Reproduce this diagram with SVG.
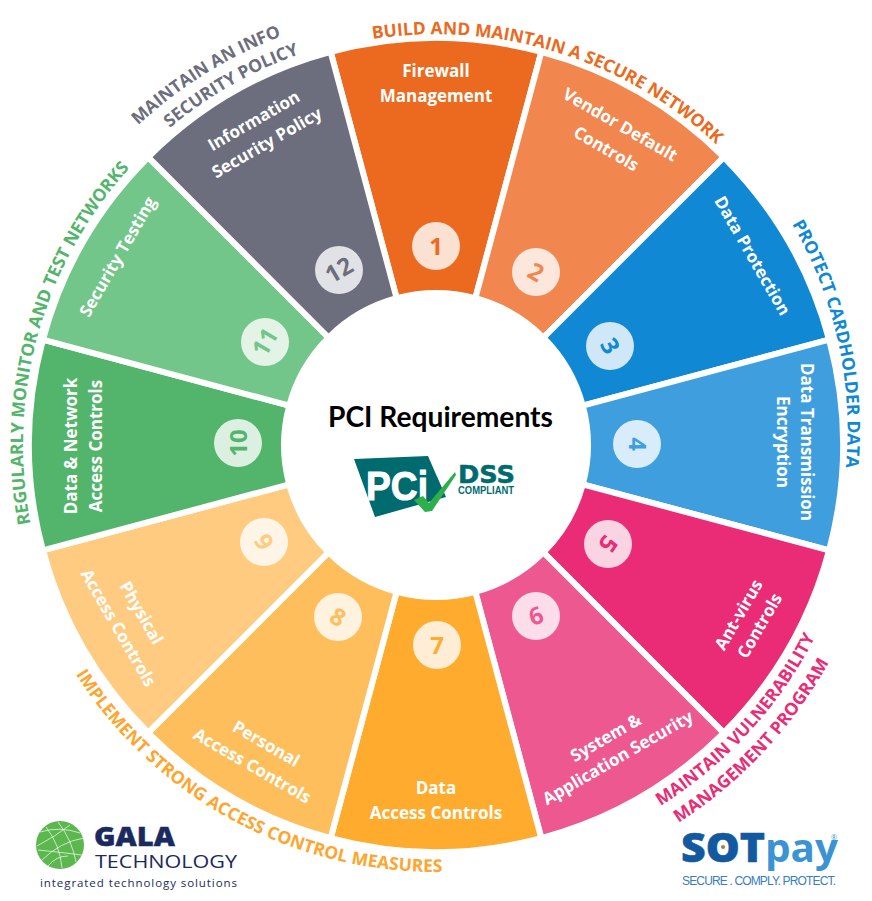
<svg xmlns="http://www.w3.org/2000/svg" width="872" height="901" viewBox="0 0 872 901">
<style>
text{font-family:"Open Sans","Liberation Sans",sans-serif}
.seg{stroke:#fff;stroke-width:6;stroke-linejoin:miter}
.lb{fill:#fff;font-size:17px;font-weight:700;text-anchor:middle}
.dg{font-size:24px;font-weight:700;text-anchor:middle}
.ol{font-size:17.5px;font-weight:700}
.cb{fill:#fff;fill-opacity:.8}
</style>
<defs>
<path id="seg" class="seg" d="M-105.3 -393.1A407 407 0 0 1 105.3 -393.1L39.3 -146.8A152 152 0 0 0 -39.3 -146.8Z"/>
<path id="a1" d="M372.7 39.1A411 411 0 0 1 791.9 239.5"/>
<path id="a2" d="M792 224A410 410 0 0 1 822.8 570.2"/>
<path id="a3a" d="M660.4 805.9A425 425 0 0 0 861 445"/>
<path id="a3b" d="M678.6 822.8A449 449 0 0 0 885 445"/>
<path id="a4" d="M75.9 674.4A427 427 0 0 0 546.5 857.4"/>
<path id="a5" d="M30.6 523.8A413 413 0 0 1 229.5 87.3"/>
<path id="a6a" d="M138 125.4A437 437 0 0 1 436 8"/>
<path id="a6b" d="M169.9 127.9A414 414 0 0 1 436 31"/>
</defs>

<g id="connectors"></g>

<g id="node-1"><use href="#seg" transform="translate(436 445)" fill="#EC6A20"/><circle class="cb" cx="436" cy="246" r="24"/><text class="dg" fill="#EC6A20" transform="translate(436 246)" y="8.5">1</text><text class="lb" x="436" y="77">Firewall</text><text class="lb" x="436" y="102">Management</text></g>
<g id="node-2"><use href="#seg" transform="translate(436 445) rotate(30)" fill="#F2864F"/><circle class="cb" cx="536" cy="272" r="24"/><text class="dg" fill="#F2864F" transform="translate(536 272) rotate(30)" y="8.5">2</text><text class="lb" transform="translate(620 125) rotate(30)" y="5.5">Vendor Default</text><text class="lb" transform="translate(606 149) rotate(30)" y="5.5">Controls</text></g>
<g id="node-3"><use href="#seg" transform="translate(436 445) rotate(60)" fill="#1088D3"/><circle class="cb" cx="610" cy="346" r="24"/><text class="dg" fill="#1088D3" transform="translate(610 346) rotate(60)" y="8.5">3</text><text class="lb" transform="translate(752 256) rotate(60)" y="5.5">Data Protection</text></g>
<g id="node-4"><use href="#seg" transform="translate(436 445) rotate(90)" fill="#3F9FDE"/><circle class="cb" cx="637" cy="444" r="24"/><text class="dg" fill="#3F9FDE" transform="translate(637 444) rotate(90)" y="8.5">4</text><text class="lb" transform="translate(806 442) rotate(90)" y="5.5">Data Transmission</text><text class="lb" transform="translate(782 442) rotate(90)" y="5.5">Encryption</text></g>
<g id="node-5"><use href="#seg" transform="translate(436 445) rotate(120)" fill="#E92C75"/><circle class="cb" cx="608" cy="544" r="24"/><text class="dg" fill="#E92C75" transform="translate(608 544) rotate(125)" y="8.5">5</text><text class="lb" transform="translate(739 615) rotate(-60)" y="5.5">Ant-virus</text><text class="lb" transform="translate(760 626) rotate(-60)" y="5.5">Controls</text></g>
<g id="node-6"><use href="#seg" transform="translate(436 445) rotate(150)" fill="#EE5891"/><circle class="cb" cx="536" cy="616" r="24"/><text class="dg" fill="#EE5891" transform="translate(536 616) rotate(-20)" y="8.5">6</text><text class="lb" transform="translate(606 738) rotate(-30)" y="5.5">System &amp;</text><text class="lb" transform="translate(618 758) rotate(-30)" y="5.5">Application Security</text></g>
<g id="node-7"><use href="#seg" transform="translate(436 445) rotate(180)" fill="#FFAB2E"/><circle class="cb" cx="437" cy="645" r="24"/><text class="dg" fill="#FFAB2E" transform="translate(437 645)" y="8.5">7</text><text class="lb" x="436" y="794">Data</text><text class="lb" x="436" y="819">Access Controls</text></g>
<g id="node-8"><use href="#seg" transform="translate(436 445) rotate(210)" fill="#FFBE5C"/><circle class="cb" cx="338" cy="617" r="24"/><text class="dg" fill="#FFBE5C" transform="translate(338 617) rotate(30)" y="8.5">8</text><text class="lb" transform="translate(266 744) rotate(30)" y="5.5">Personal</text><text class="lb" transform="translate(252 766) rotate(30)" y="5.5">Access Controls</text></g>
<g id="node-9"><use href="#seg" transform="translate(436 445) rotate(240)" fill="#FFCB80"/><circle class="cb" cx="264" cy="542" r="24"/><text class="dg" fill="#FFCB80" transform="translate(264 542) rotate(60)" y="8.5">9</text><text class="lb" transform="translate(141 613) rotate(60)" y="5.5">Physical</text><text class="lb" transform="translate(118 628) rotate(60)" y="5.5">Access Controls</text></g>
<g id="node-10"><use href="#seg" transform="translate(436 445) rotate(270)" fill="#53B56B"/><circle class="cb" cx="238" cy="443" r="24"/><text class="dg" fill="#53B56B" transform="translate(238 443) rotate(-90)" y="8.5">10</text><text class="lb" transform="translate(71 446) rotate(-90)" y="5.5">Data &amp; Network</text><text class="lb" transform="translate(96 446) rotate(-90)" y="5.5">Access Controls</text></g>
<g id="node-11"><use href="#seg" transform="translate(436 445) rotate(300)" fill="#73C689"/><circle class="cb" cx="265" cy="342" r="24"/><text class="dg" fill="#73C689" transform="translate(265 342) rotate(-60)" y="8.5">11</text><text class="lb" transform="translate(118 257) rotate(-60)" y="5.5">Security Testing</text></g>
<g id="node-12"><use href="#seg" transform="translate(436 445) rotate(330)" fill="#6C6E7E"/><circle class="cb" cx="339" cy="270" r="24"/><text class="dg" fill="#6C6E7E" transform="translate(339 270) rotate(-30)" y="8.5">12</text><text class="lb" transform="translate(254 121) rotate(-30)" y="5.5">Information</text><text class="lb" transform="translate(267 143) rotate(-30)" y="5.5">Security Policy</text></g>

<g id="group-labels">
<text class="ol" fill="#EC6A20"><textPath href="#a1">BUILD AND MAINTAIN A SECURE NETWORK</textPath></text>
<text class="ol" fill="#1088D3"><textPath href="#a2">PROTECT CARDHOLDER DATA</textPath></text>
<text class="ol" fill="#E92C75"><textPath href="#a3a">MAINTAIN VULNERABILITY</textPath></text>
<text class="ol" fill="#E92C75"><textPath href="#a3b">MANAGEMENT PROGRAM</textPath></text>
<text class="ol" fill="#FFA52E"><textPath href="#a4">IMPLEMENT STRONG ACCESS CONTROL MEASURES</textPath></text>
<text class="ol" fill="#53B56B"><textPath href="#a5">REGULARLY MONITOR AND TEST NETWORKS</textPath></text>
<text class="ol" fill="#6C6E7E"><textPath href="#a6a">MAINTAIN AN INFO</textPath></text>
<text class="ol" fill="#6C6E7E"><textPath href="#a6b">SECURITY POLICY</textPath></text>
</g>

<g id="center">
<text x="328" y="427" font-size="28" font-weight="700" style="font-family:Lato,'Liberation Sans',sans-serif" fill="#000" textLength="225" lengthAdjust="spacingAndGlyphs">PCI Requirements</text>
<polygon points="354,459 428,456 446,497 375,517" fill="#006B6E"/>
<text x="366" y="500" font-size="40" font-weight="700" fill="#fff" stroke="#fff" stroke-width="1" style="font-family:'Liberation Sans',sans-serif" textLength="62" lengthAdjust="spacingAndGlyphs">PCi</text>
<polygon points="414,500 423,496 429,503 455,472 456,475 432,511 425,512" fill="#2DB04B"/>
<text x="458" y="483" font-size="24" font-weight="700" fill="#006B6E" stroke="#006B6E" stroke-width=".5" style="font-family:'DejaVu Sans',sans-serif" textLength="57" lengthAdjust="spacingAndGlyphs">DSS</text>
<text x="458" y="494" font-size="10" font-weight="700" fill="#006B6E" style="font-family:'Liberation Sans',sans-serif" textLength="56" lengthAdjust="spacingAndGlyphs">COMPLIANT</text>
</g>

<g id="gala-logo">
<circle cx="60" cy="845" r="24" fill="#5CB84E"/>
<g fill="none" stroke="#fff" stroke-width=".8" stroke-opacity=".85">
<path d="M40 832Q60 826 80 833M37 846Q56 836 70 825M42 860Q60 842 84 838M58 822Q72 840 76 862M46 827Q60 845 62 868M38 850Q58 852 82 855M48 866Q56 856 68 856"/>
</g>
<text x="94" y="846" font-size="27" font-weight="800" fill="#1B2A5E" stroke="#1B2A5E" stroke-width=".4" textLength="81" lengthAdjust="spacingAndGlyphs">GALA</text>
<text x="95" y="868" font-size="18" fill="#1B2A5E" textLength="142" lengthAdjust="spacingAndGlyphs">TECHNOLOGY</text>
<text x="40" y="887" font-size="11.5" fill="#1B2A5E" textLength="197" lengthAdjust="spacing">integrated technology solutions</text>
</g>

<g id="sotpay-logo">
<text x="681" y="862" font-size="40" font-weight="800" fill="#1259A0" stroke="#1259A0" stroke-width=".6" textLength="84" lengthAdjust="spacingAndGlyphs">SOT</text>
<text x="765" y="862" font-size="40" font-weight="700" fill="#3B93D3" textLength="73" lengthAdjust="spacingAndGlyphs">pay</text>
<circle cx="723" cy="847" r="2" fill="#A57C4A"/>
<text x="834" y="840" font-size="7" text-anchor="middle" fill="#3B93D3">®</text>
<text x="682" y="885" font-size="12" fill="#3A7CC0" style="font-family:'Liberation Sans',sans-serif" textLength="154" lengthAdjust="spacing">SECURE . COMPLY. PROTECT.</text>
</g>
</svg>
